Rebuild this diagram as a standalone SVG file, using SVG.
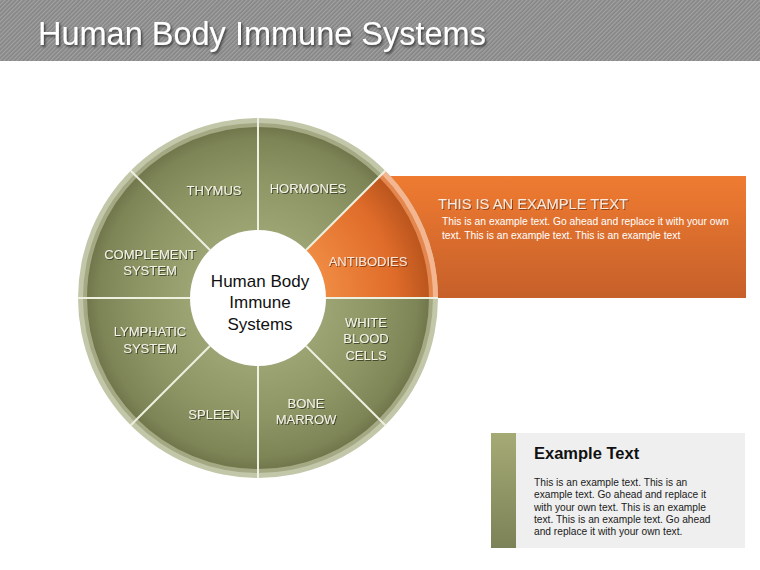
<svg xmlns="http://www.w3.org/2000/svg" width="760" height="570" viewBox="0 0 760 570">
<defs>
<pattern id="stripes" width="3" height="3" patternUnits="userSpaceOnUse" patternTransform="rotate(45)">
<rect width="3" height="3" fill="#858585"/>
<rect width="1.3" height="3" fill="#a2a2a2"/>
</pattern>
<radialGradient id="greenG" gradientUnits="userSpaceOnUse" cx="258" cy="298" r="171">
<stop offset="0.4" stop-color="#9ca474"/>
<stop offset="0.7" stop-color="#8d9565"/>
<stop offset="0.93" stop-color="#7d8456"/>
<stop offset="1" stop-color="#71774b"/>
</radialGradient>
<radialGradient id="orangeG" gradientUnits="userSpaceOnUse" cx="258" cy="298" r="171">
<stop offset="0.4" stop-color="#ef8a42"/>
<stop offset="0.8" stop-color="#e06c2a"/>
<stop offset="1" stop-color="#bb561e"/>
</radialGradient>
<linearGradient id="boxG" x1="0" y1="0" x2="0" y2="1">
<stop offset="0" stop-color="#ef7b31"/>
<stop offset="1" stop-color="#c6602a"/>
</linearGradient>
<linearGradient id="barG" x1="0" y1="0" x2="0" y2="1">
<stop offset="0" stop-color="#a5aa75"/>
<stop offset="1" stop-color="#7c8257"/>
</linearGradient>
<filter id="titleShadow" x="-5%" y="-20%" width="110%" height="150%">
<feDropShadow dx="1.5" dy="2" stdDeviation="1" flood-color="#2a2a2a" flood-opacity="0.8"/>
</filter>
<filter id="lblShadow" x="-10%" y="-30%" width="120%" height="160%">
<feDropShadow dx="1" dy="1" stdDeviation="0.6" flood-color="#3e4226" flood-opacity="0.9"/>
</filter>
<filter id="orShadow" x="-10%" y="-30%" width="120%" height="160%">
<feDropShadow dx="1" dy="1" stdDeviation="0.6" flood-color="#7a3510" flood-opacity="0.8"/>
</filter>
<style>
.lbl{font-family:"Liberation Sans",Arial,sans-serif;font-size:13px;fill:#f3f3e6;text-anchor:middle;filter:url(#lblShadow)}
.olbl{font-family:"Liberation Sans",Arial,sans-serif;font-size:13px;fill:#fbe6d6;text-anchor:middle;filter:url(#orShadow)}
.wedge{fill:url(#greenG)}
.div{stroke:#eef0e0;stroke-width:2;fill:none}
.ctr{font-family:"Liberation Sans",Arial,sans-serif;font-size:17px;fill:#111;text-anchor:middle}
.small{font-family:"Liberation Sans",Arial,sans-serif;font-size:10.3px;fill:#ffffff}
.body{font-family:"Liberation Sans",Arial,sans-serif;font-size:10.2px;fill:#1a1a1a}
</style>
</defs>
<rect width="760" height="570" fill="#ffffff"/>
<g id="title">
<rect x="0" y="0" width="760" height="61" fill="url(#stripes)"/>
<text x="38" y="45" font-family="Liberation Sans, Arial, sans-serif" font-size="32.5" fill="#ffffff" filter="url(#titleShadow)">Human Body Immune Systems</text>
</g>
<g id="orange-box">
<rect x="380" y="176" width="366" height="122" fill="url(#boxG)"/>
<text x="438" y="209" font-family="Liberation Sans, Arial, sans-serif" font-size="14.7" fill="#fde9da" filter="url(#orShadow)">THIS IS AN EXAMPLE TEXT</text>
<text class="small" x="442" y="225">This is an example text. Go ahead and replace it with your own</text>
<text class="small" x="442" y="239">text. This is an example text. This is an example text</text>
</g>
<g id="wheel-ring">
<circle cx="258" cy="298" r="180" fill="#c3c7a9"/>
<circle cx="258" cy="298" r="175" fill="#a4a983"/>
<path d="M258 298 L438 298 A180 180 0 0 0 385.28 170.72 Z" fill="#f4b690"/>
<path d="M258 298 L433 298 A175 175 0 0 0 381.74 174.26 Z" fill="#e4874e"/>
</g>
<g id="antibodies">
<path d="M326 298 L429 298 A171 171 0 0 0 378.9 177.1 L306.08 249.92 A68 68 0 0 1 326 298 Z" fill="url(#orangeG)"/>
<text class="olbl" x="368" y="266">ANTIBODIES</text>
</g>
<g id="hormones">
<path class="wedge" d="M306.08 249.92 L378.9 177.1 A171 171 0 0 0 258 127 L258 230 A68 68 0 0 1 306.08 249.92 Z"/>
<text class="lbl" x="308" y="193">HORMONES</text>
</g>
<g id="thymus">
<path class="wedge" d="M258 230 L258 127 A171 171 0 0 0 137.1 177.1 L209.92 249.92 A68 68 0 0 1 258 230 Z"/>
<text class="lbl" x="214" y="195">THYMUS</text>
</g>
<g id="complement-system">
<path class="wedge" d="M209.92 249.92 L137.1 177.1 A171 171 0 0 0 87 298 L190 298 A68 68 0 0 1 209.92 249.92 Z"/>
<text class="lbl" x="150" y="259">COMPLEMENT</text>
<text class="lbl" x="150" y="275">SYSTEM</text>
</g>
<g id="lymphatic-system">
<path class="wedge" d="M190 298 L87 298 A171 171 0 0 0 137.1 418.9 L209.92 346.08 A68 68 0 0 1 190 298 Z"/>
<text class="lbl" x="150" y="336">LYMPHATIC</text>
<text class="lbl" x="150" y="353">SYSTEM</text>
</g>
<g id="spleen">
<path class="wedge" d="M209.92 346.08 L137.1 418.9 A171 171 0 0 0 258 469 L258 366 A68 68 0 0 1 209.92 346.08 Z"/>
<text class="lbl" x="214" y="419">SPLEEN</text>
</g>
<g id="bone-marrow">
<path class="wedge" d="M258 366 L258 469 A171 171 0 0 0 378.9 418.9 L306.08 346.08 A68 68 0 0 1 258 366 Z"/>
<text class="lbl" x="306" y="408">BONE</text>
<text class="lbl" x="306" y="424">MARROW</text>
</g>
<g id="white-blood-cells">
<path class="wedge" d="M306.08 346.08 L378.9 418.9 A171 171 0 0 0 429 298 L326 298 A68 68 0 0 1 306.08 346.08 Z"/>
<text class="lbl" x="366" y="327">WHITE</text>
<text class="lbl" x="366" y="343">BLOOD</text>
<text class="lbl" x="366" y="360">CELLS</text>
</g>
<g id="connectors">
<line class="div" x1="326" y1="298" x2="438" y2="298"/>
<line class="div" x1="306.08" y1="249.92" x2="385.28" y2="170.72"/>
<line class="div" x1="258" y1="230" x2="258" y2="118"/>
<line class="div" x1="209.92" y1="249.92" x2="130.72" y2="170.72"/>
<line class="div" x1="190" y1="298" x2="78" y2="298"/>
<line class="div" x1="209.92" y1="346.08" x2="130.72" y2="425.28"/>
<line class="div" x1="258" y1="366" x2="258" y2="478"/>
<line class="div" x1="306.08" y1="346.08" x2="385.28" y2="425.28"/>
</g>
<g id="center">
<circle cx="258" cy="298" r="68" fill="#ffffff"/>
<text class="ctr" x="260" y="287">Human Body</text>
<text class="ctr" x="260" y="308">Immune</text>
<text class="ctr" x="260" y="330">Systems</text>
</g>
<g id="example-box">
<rect x="491" y="433" width="254" height="115" fill="#efefef"/>
<rect x="491" y="433" width="25" height="115" fill="url(#barG)"/>
<text x="534" y="459" font-family="Liberation Sans, Arial, sans-serif" font-size="16.5" font-weight="bold" fill="#111">Example Text</text>
<text class="body" x="534" y="486">This is an example text. This is an</text>
<text class="body" x="534" y="498">example text. Go ahead and replace it</text>
<text class="body" x="534" y="511">with your own text. This is an example</text>
<text class="body" x="534" y="523">text. This is an example text. Go ahead</text>
<text class="body" x="534" y="535">and replace it with your own text.</text>
</g>
</svg>
